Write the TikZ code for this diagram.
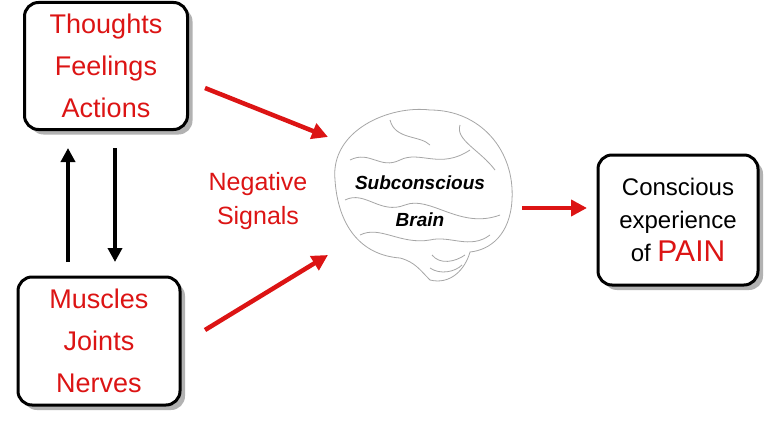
\documentclass[tikz,border=0pt]{standalone}
\usepackage{fontspec}
\setmainfont{Liberation Sans}
\usetikzlibrary{shadows,arrows.meta}
\definecolor{myred}{RGB}{220,20,20}
\begin{document}
\begin{tikzpicture}[x=1pt,y=-1pt,
 box/.style={draw=black,line width=3pt,rounded corners=14pt,fill=white,drop shadow={shadow xshift=5pt,shadow yshift=-5pt,fill=gray!60,opacity=1}},
 rtxt/.style={text=myred,font=\fontsize{27}{42}\selectfont,align=center},
 ktxt/.style={text=black,font=\fontsize{24}{33}\selectfont,align=center},
 blk/.style={line width=4pt,-{Triangle[length=14pt,width=14pt]}},
 red/.style={draw=myred,line width=4.5pt,-{Triangle[length=16pt,width=16pt]}},
 brain/.style={draw=gray!70,line width=0.8pt}]
\useasboundingbox (0,0) rectangle (774,436);
\node[box,minimum width=163pt,minimum height=127pt] (t) at (106,66) {};
\node[rtxt] at (t) {Thoughts\\Feelings\\Actions};
\node[box,minimum width=162pt,minimum height=128pt] (m) at (99,341) {};
\node[rtxt] at (m) {Muscles\\Joints\\Nerves};
\node[box,minimum width=160pt,minimum height=130pt] (c) at (678,220) {};
\node[ktxt] at (c) {Conscious\\experience\\of {\color{myred}\fontsize{30}{33}\selectfont PAIN}};
\coordinate (u1) at (68,262); \coordinate (u2) at (68,148);
\coordinate (d1) at (115,148); \coordinate (d2) at (115,262);
\draw[blk] (u1) -- (u2);
\draw[blk] (d1) -- (d2);
% brain
\draw[brain,fill=white] (335,180) .. controls (330,130) and (390,105) .. (430,110)
 .. controls (480,110) and (515,150) .. (512,200)
 .. controls (510,235) and (490,250) .. (470,252)
 .. controls (465,270) and (450,285) .. (430,280)
 .. controls (420,270) and (415,262) .. (400,258)
 .. controls (360,255) and (338,225) .. (335,180) -- cycle;
\draw[brain] (350,160) .. controls (370,150) and (380,170) .. (400,160) .. controls (420,150) and (440,170) .. (470,150);
\draw[brain] (345,200) .. controls (365,190) and (380,215) .. (405,205) .. controls (430,195) and (460,230) .. (500,215);
\draw[brain] (360,235) .. controls (380,225) and (400,245) .. (430,240) .. controls (450,235) and (470,250) .. (490,235);
\draw[brain] (390,120) .. controls (395,140) and (420,135) .. (430,145);
\draw[brain] (460,125) .. controls (455,140) and (480,150) .. (495,170);
\draw[brain] (432,255) .. controls (440,265) and (455,262) .. (465,255);
\draw[brain] (430,268) .. controls (440,275) and (455,272) .. (462,265);
\node[font=\bfseries\itshape\fontsize{19}{37}\selectfont,align=center] (b) at (420,201) {Subconscious\\Brain};
\coordinate (bt) at (328,137); \coordinate (bb) at (328,255);
\coordinate (br) at (522,208); \coordinate (ce) at (587,208);
\coordinate (t1) at (205,88); \coordinate (m1) at (205,330);
\draw[red] (t1) -- (bt);
\draw[red] (m1) -- (bb);
\draw[red] (br) -- (ce);
\node[rtxt,font=\fontsize{25}{34}\selectfont] (n) at (258,201) {Negative\\Signals};
\end{tikzpicture}
\end{document}
